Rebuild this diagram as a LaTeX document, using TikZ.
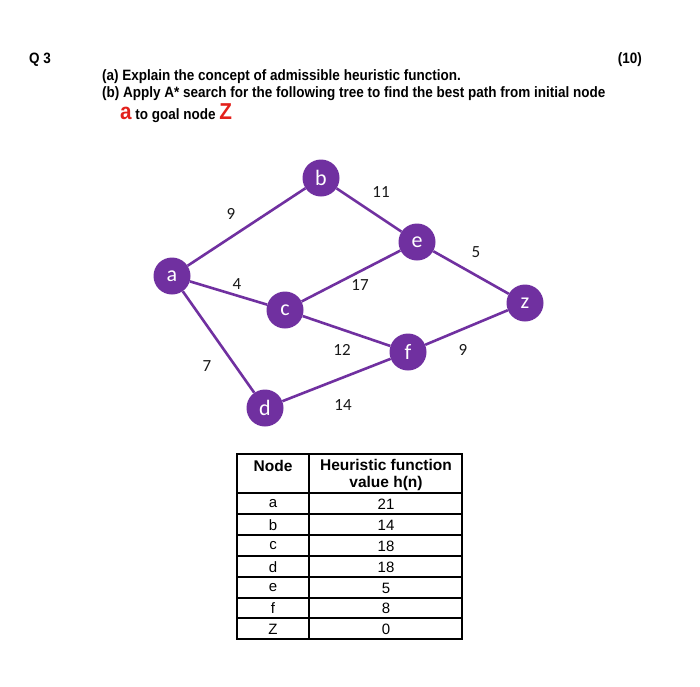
\documentclass[tikz,border=0pt]{standalone}
\usepackage{fontspec}
\setmainfont{Liberation Sans}
\newfontfamily\narrowfont[FakeStretch=0.9]{Liberation Sans}
\newfontfamily\carl{Carlito}
\definecolor{gpurple}{HTML}{7030A0}
\definecolor{redq}{HTML}{E3201B}
\tikzset{
  gnode/.style={circle, fill=gpurple, minimum size=37pt, inner sep=0pt, text=white, font=\carl\fontsize{22}{22}\selectfont},
  gedge/.style={draw=gpurple, line width=2.6pt},
  wlabel/.style={font=\carl\fontsize{17}{17}\selectfont, text=black!90},
  head/.style={font=\narrowfont\bfseries\fontsize{15}{15}\selectfont, anchor=base west, inner sep=0pt},
  tline/.style={line width=1.8pt},
  tcell/.style={font=\fontsize{15}{15}\selectfont, inner sep=0pt},
  thead/.style={font=\bfseries\fontsize{15.5}{17.5}\selectfont, inner sep=0pt, align=center},
}
\begin{document}
\begin{tikzpicture}[x=1pt, y=-1pt]
\useasboundingbox[fill=white] (0,0) rectangle (700,686);
% header text
\node[head] (q3) at (29,63) {Q 3};
\node[head, anchor=base east] (marks) at (642,63) {(10)};
\node[head] (qa) at (102,80) {(a) Explain the concept of admissible heuristic function.};
\node[head] (qb) at (102,97) {(b) Apply A* search for the following tree to find the best path from initial node};
\node[head] (qc) at (120,119) {\textcolor{redq}{\fontsize{23}{23}\selectfont a} to goal node \textcolor{redq}{\fontsize{23}{23}\selectfont Z}};
% graph nodes
\node[gnode] (a) at (172,276) {a};
\node[gnode] (b) at (321,178) {b};
\node[gnode] (e) at (417,242) {e};
\node[gnode] (c) at (285,310) {c};
\node[gnode] (z) at (525,303) {z};
\node[gnode] (f) at (408,352) {f};
\node[gnode] (d) at (265,408) {d};
% edges
\path[gedge] (a) -- (b);
\path[gedge] (b) -- (e);
\path[gedge] (e) -- (z);
\path[gedge] (a) -- (c);
\path[gedge] (c) -- (e);
\path[gedge] (c) -- (f);
\path[gedge] (a) -- (d);
\path[gedge] (d) -- (f);
\path[gedge] (f) -- (z);
% weights
\node[wlabel] (w9a) at (231,214) {9};
\node[wlabel] (w11) at (381,192) {11};
\node[wlabel] (w5) at (476,252) {5};
\node[wlabel] (w4) at (237,284) {4};
\node[wlabel] (w17) at (360,285) {17};
\node[wlabel] (w12) at (342,350) {12};
\node[wlabel] (w9b) at (463,350) {9};
\node[wlabel] (w7) at (207,366) {7};
\node[wlabel] (w14) at (343,405) {14};
% table
\draw[tline] (237,454) rectangle (462,639);
\draw[tline] (309,454) -- (309,639);
\foreach \yy in {493,514,535,556,577,598,618} {
  \draw[tline] (237,\yy) -- (462,\yy);
}
\node[thead] (hn) at (273,466) {Node};
\node[thead] (hh) at (386,475) {Heuristic function\\value h(n)};
\foreach \n/\v/\yy in {a/21/504, b/14/525, c/18/546, d/18/567, e/5/588, f/8/608, Z/0/629} {
  \node[tcell] (r\n) at (273,\yy) {\n};
  \node[tcell] (v\n) at (386,\yy) {\v};
}
\end{tikzpicture}
\end{document}
